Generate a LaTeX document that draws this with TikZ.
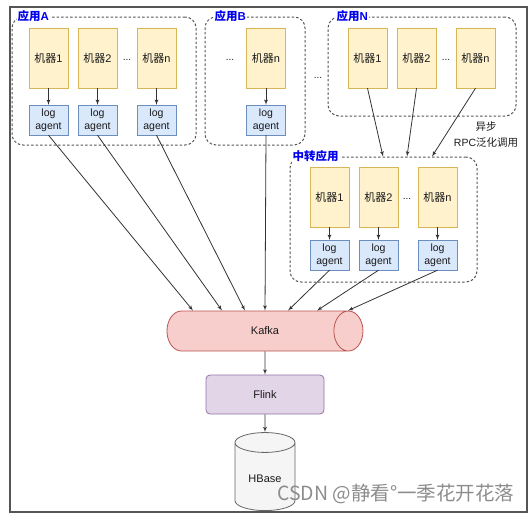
\documentclass[tikz,border=0pt]{standalone}
\usepackage{fontspec}
\setmainfont{Liberation Sans}
\newfontfamily\cjk{Noto Sans CJK SC}
\usetikzlibrary{shapes,arrows}
\newcommand{\jiqi}[0]{{\cjk 机器}}
\newcommand{\yy}[0]{{\cjk 应用}}
\definecolor{machfill}{HTML}{FFF2CC}
\definecolor{machdraw}{HTML}{D6B656}
\definecolor{agentfill}{HTML}{DAE8FC}
\definecolor{agentdraw}{HTML}{6C8EBF}
\definecolor{kafkafill}{HTML}{F8CECC}
\definecolor{kafkadraw}{HTML}{B85450}
\definecolor{flinkfill}{HTML}{E1D5E7}
\definecolor{flinkdraw}{HTML}{9673A6}
\definecolor{hbasefill}{HTML}{F5F5F5}
\definecolor{hbasedraw}{HTML}{666666}
\definecolor{linegray}{HTML}{333333}
\definecolor{groupgray}{HTML}{555555}
\definecolor{labelblue}{HTML}{0000EE}
\definecolor{textdark}{HTML}{1A1A1A}
\definecolor{markgray}{HTML}{8C8C8C}
\tikzstyle{machine} = [rectangle, draw=machdraw, fill=machfill, text=textdark, text centered, minimum width=39pt, minimum height=60pt, inner sep=0pt, font=\fontsize{11}{13}\selectfont, node distance=62pt]
\tikzstyle{agent} = [rectangle, draw=agentdraw, fill=agentfill, text=textdark, align=center, minimum width=39pt, minimum height=30pt, inner sep=0pt, font=\fontsize{10.5}{13}\selectfont, node distance=62pt]
\tikzstyle{line} = [draw=linegray, -latex', line width=0.8pt]
\tikzstyle{group} = [rectangle, draw=groupgray, dash pattern=on 2.5pt off 2pt, line width=1pt, rounded corners=11pt, inner sep=0pt]
\tikzstyle{grouplabel} = [fill=white, text=labelblue, inner sep=1pt, anchor=west, font=\fontsize{11.5}{13}\bfseries\selectfont]
\tikzstyle{dots} = [text=textdark, font=\fontsize{10}{12}\selectfont]
\tikzstyle{pipe} = [cylinder, draw=kafkadraw, fill=kafkafill, text=textdark, line width=0.8pt, minimum width=40pt, minimum height=196pt, aspect=3.6, inner sep=0pt, font=\fontsize{11}{13}\selectfont]
\tikzstyle{job} = [rectangle, rounded corners=4pt, draw=flinkdraw, fill=flinkfill, text=textdark, line width=0.8pt, minimum width=118pt, minimum height=39pt, font=\fontsize{11}{13}\selectfont]
\tikzstyle{store} = [cylinder, shape border rotate=90, draw=hbasedraw, fill=hbasefill, text=textdark, line width=0.8pt, minimum width=60pt, minimum height=78pt, aspect=0.5, font=\fontsize{11}{13}\selectfont]

\begin{document}
\begin{tikzpicture}[x=1pt,y=-1pt]
\useasboundingbox (0,0) rectangle (532,514);
\draw [groupgray, line width=1.2pt] (10,7) rectangle (527,512);

% groups
\node [group, minimum width=184pt, minimum height=128pt] (appA) at (104,81) {};
\node [group, minimum width=100pt, minimum height=128pt] (appB) at (255,81) {};
\node [group, minimum width=188pt, minimum height=99pt] (appN) at (422,66.5) {};
\node [group, minimum width=187pt, minimum height=125pt] (relay) at (383.5,219.5) {};

\node [grouplabel] (labA) at ([xshift=5pt]appA.north west) {\yy A};
\node [grouplabel] (labB) at ([xshift=9pt]appB.north west) {\yy B};
\node [grouplabel] (labN) at ([xshift=8pt]appN.north west) {\yy N};
\node [grouplabel] (labR) at ([xshift=2pt]relay.north west) {{\cjk 中转应用}};

% app A
\node [machine] (a1) at (48.5,58) {\jiqi 1};
\node [machine, node distance=49pt, right of=a1] (a2) {\jiqi 2};
\node [machine, node distance=59pt, right of=a2] (an) {\jiqi n};
\node [dots] (adots) at (127,60) {...};
\node [agent, below of=a1] (la1) {log\\agent};
\node [agent, below of=a2] (la2) {log\\agent};
\node [agent, below of=an] (lan) {log\\agent};

% app B
\node [machine] (bn) at (266,58) {\jiqi n};
\node [dots] (bdots) at (230,60) {...};
\node [agent, below of=bn] (lbn) {log\\agent};

\node [dots] (middots) at (318,78) {...};

% app N
\node [machine] (n1) at (367.5,58) {\jiqi 1};
\node [machine, node distance=49pt, right of=n1] (n2) {\jiqi 2};
\node [machine, node distance=59pt, right of=n2] (nn) {\jiqi n};
\node [dots] (ndots) at (446,60) {...};

\node [align=center, text=textdark, font=\fontsize{10.5}{16}\selectfont] (rpc) at (486,135) {{\cjk 异步}\\RPC{\cjk 泛化调用}};

% relay
\node [machine] (r1) at (329.5,197) {\jiqi 1};
\node [machine, node distance=49pt, right of=r1] (r2) {\jiqi 2};
\node [machine, node distance=59pt, right of=r2] (rn) {\jiqi n};
\node [dots] (rdots) at (407,199) {...};
\node [agent, node distance=58pt, below of=r1] (lr1) {log\\agent};
\node [agent, node distance=58pt, below of=r2] (lr2) {log\\agent};
\node [agent, node distance=58pt, below of=rn] (lrn) {log\\agent};

% pipeline
\node [pipe] (kafka) at (257.5,331) {\hspace*{15pt}Kafka};
\node [job] (flink) at (265,394.5) {Flink};
\node [store, node distance=84.5pt, below of=flink] (hbase) {HBase};

\node [text=markgray, anchor=east, font=\fontsize{19.5}{22}\selectfont] (mark) at (518,494) {{\cjk CSDN @静看°一季花开花落}};

% arrows
\path [line] (a1) -- (la1);
\path [line] (a2) -- (la2);
\path [line] (an) -- (lan);
\path [line] (bn) -- (lbn);
\path [line] (r1) -- (lr1);
\path [line] (r2) -- (lr2);
\path [line] (rn) -- (lrn);

\path [line] (n1.south) -- ([xshift=-0.5pt]relay.north);
\path [line] (n2.south) -- ([xshift=23.5pt]relay.north);
\path [line] (nn.south) -- ([xshift=48.5pt]relay.north);

\path [line] (la1.south) -- ([xshift=-64.5pt]kafka.north);
\path [line] (la2.south) -- ([xshift=-35.5pt]kafka.north);
\path [line] (lan.south) -- ([xshift=-12.5pt]kafka.north);
\path [line] (lbn.south) -- ([xshift=7.5pt]kafka.north);
\path [line] (lr1.south) -- ([xshift=30.5pt]kafka.north);
\path [line] (lr2.south) -- ([xshift=59.5pt]kafka.north);
\path [line] (lrn.south) -- ([xshift=90.5pt]kafka.north);

\path [line] ([xshift=7.5pt]kafka.south) -- (flink);
\path [line] (flink) -- (hbase);

\end{tikzpicture}
\end{document}
